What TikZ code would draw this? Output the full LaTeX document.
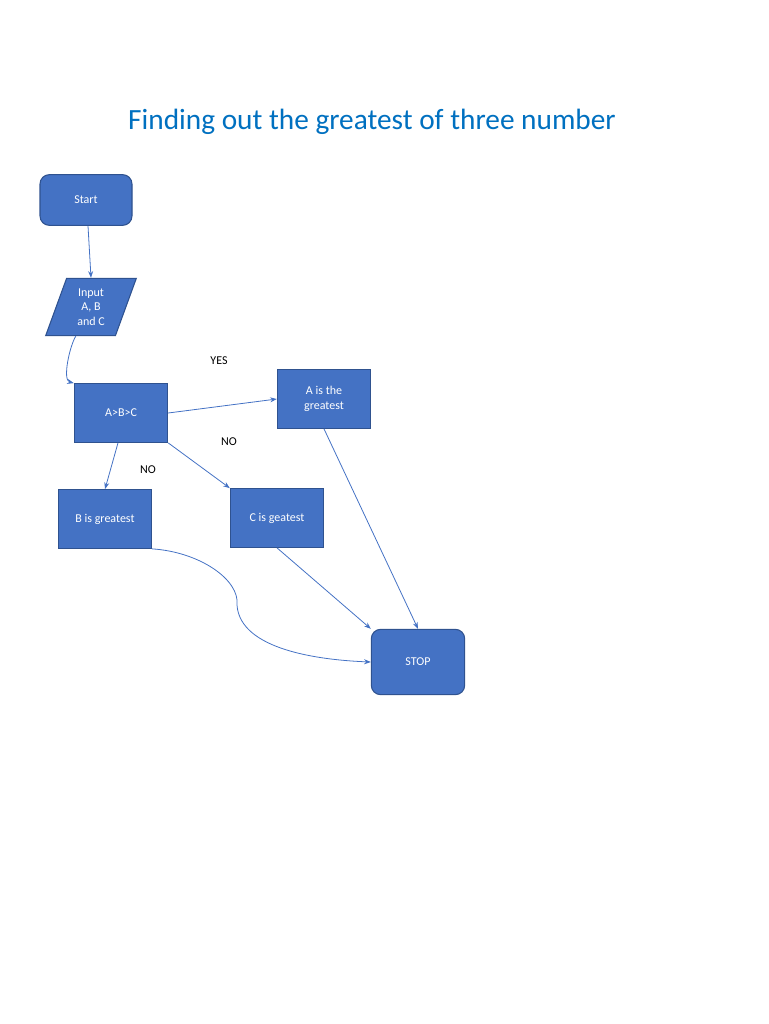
\documentclass[tikz,border=0pt]{standalone}
\usepackage{fontspec}
\setmainfont{Carlito}
\usetikzlibrary{positioning,shapes.geometric,arrows.meta}
\definecolor{boxfill}{RGB}{68,114,196}
\definecolor{boxline}{RGB}{47,82,143}
\definecolor{titleblue}{RGB}{0,112,192}
\begin{document}
\begin{tikzpicture}[x=0.75pt,y=-0.75pt]
  % styles
  \tikzset{
    block/.style={draw=boxline,fill=boxfill,text=white,font=\fontsize{9}{11}\selectfont,
      align=center,minimum width=70pt,minimum height=44pt,inner sep=1pt,line width=0.8pt},
    term/.style={block,rounded corners=7pt},
    io/.style={block,trapezium,trapezium left angle=72,trapezium right angle=108,
      minimum width=52pt,minimum height=44pt,trapezium stretches=true},
    link/.style={boxfill,line width=0.6pt,-{Stealth[length=5pt]}},
    lab/.style={font=\fontsize{9}{11}\selectfont},
  }
  \useasboundingbox (0,0) rectangle (768,1024);
  \node[text=titleblue,font=\fontsize{22}{26}\selectfont] (title) at (372,122) {Finding out the greatest of three number};
  % nodes
  \node[term,minimum width=69pt,minimum height=38pt] (start) at (86,200) {Start};
  \node[io,minimum width=68pt,minimum height=43pt] (input) at (91,307) {Input\\A, B\\and C};
  \node[block] (cmp) at (121,413) {A{>}B{>}C};
  \node[block] (agr) at (324,399) {A is the\\greatest};
  \node[block] (bgr) at (105,519) {B is greatest};
  \node[block] (cgr) at (277,518) {C is geatest};
  \node[term,minimum height=49pt] (stop) at (418,662) {STOP};
  % labels
  \node[lab] (yes) at (219,361) {YES};
  \node[lab] (no1) at (229,442) {NO};
  \node[lab] (no2) at (148,470) {NO};
  % connectors
  \draw[link] (start.south) ++(2,0) coordinate (s1) -- (input.north);
  \draw[link] (input.south west) ++(14,0) coordinate (i1) .. controls (70,345) and (62,380) .. (cmp.north west);
  \draw[link] (cmp.east) -- (agr.west);
  \draw[link] (cmp.south) ++(-3,0) coordinate (c1) -- (bgr.north);
  \draw[link] (cmp.south east) -- (cgr.north west);
  \draw[link] (agr.south) -- (stop.north);
  \draw[link] (cgr.south) -- (stop.north west);
  \draw[link] (bgr.south east) .. controls (200,552) and (240,580) .. (237,605)
    .. controls (240,650) and (320,660) .. (stop.west);
\end{tikzpicture}
\end{document}
